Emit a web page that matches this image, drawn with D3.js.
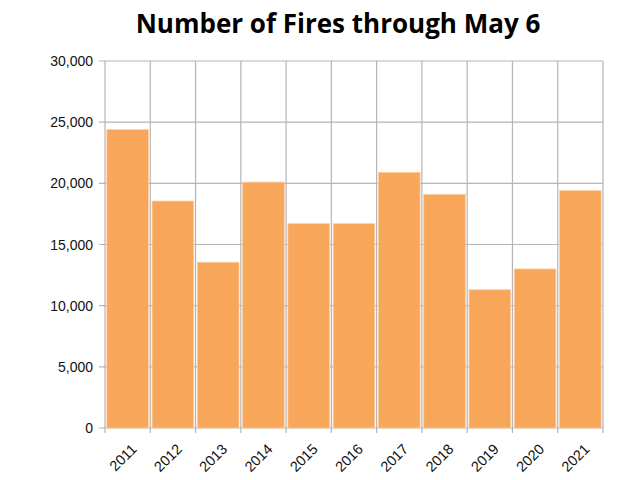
<!DOCTYPE html>
<html><head><meta charset="utf-8">
<script src="https://cdn.jsdelivr.net/npm/d3@7"></script>
<style>body{margin:0;background:#fff}</style>
</head><body><svg id="c" width="640" height="480"></svg>
<script>
const years=["2011","2012","2013","2014","2015","2016","2017","2018","2019","2020","2021"];
const fires=[24400,18550,13550,20100,16700,16700,20900,19100,11300,13000,19400];
const yTicks=[0,5000,10000,15000,20000,25000,30000];
const svg=d3.select("#c");
const L=105,R=603,T=61,B=428;
const x=d3.scaleBand().domain(years).range([L,R]).paddingInner(0.08).paddingOuter(0.04);
const y=d3.scaleLinear().domain([0,30000]).range([B,T]);
const band=(R-L)/years.length;
svg.append("g").selectAll("line").data(yTicks).join("line")
 .attr("x1",L-6).attr("x2",R).attr("y1",d=>y(d)).attr("y2",d=>y(d)).attr("stroke","#b5b5b5").attr("stroke-width",1.2);
svg.append("g").selectAll("line").data(d3.range(years.length+1)).join("line")
 .attr("x1",i=>L+i*band).attr("x2",i=>L+i*band).attr("y1",T).attr("y2",B+5).attr("stroke","#b5b5b5").attr("stroke-width",1.2);
svg.selectAll("rect.b").data(fires).join("rect")
 .attr("x",(d,i)=>x(years[i])).attr("width",x.bandwidth()).attr("y",d=>y(d)).attr("height",d=>B-y(d))
 .attr("fill","#f8a65a").attr("stroke","#fbcfa3").attr("stroke-width",0.8);
svg.append("g").selectAll("text").data(yTicks).join("text")
 .attr("x",L-12).attr("y",d=>y(d)+5).attr("text-anchor","end")
 .attr("font-family","Liberation Sans, Arial").attr("font-size",14).attr("fill","#111")
 .text(d=>d3.format(",")(d));
svg.append("g").selectAll("text").data(years).join("text")
 .attr("transform",d=>`translate(${x(d)+x.bandwidth()/2+10},${B+22}) rotate(-45)`)
 .attr("text-anchor","end").attr("font-family","Liberation Sans, Arial").attr("font-size",14.5).attr("fill","#111")
 .text(d=>d);
svg.append("text").attr("x",338).attr("y",33).attr("text-anchor","middle")
 .attr("font-family","Open Sans, Liberation Sans").attr("font-weight","bold").attr("font-size",26).attr("fill","#000")
 .text("Number of Fires through May 6");
</script></body></html>
